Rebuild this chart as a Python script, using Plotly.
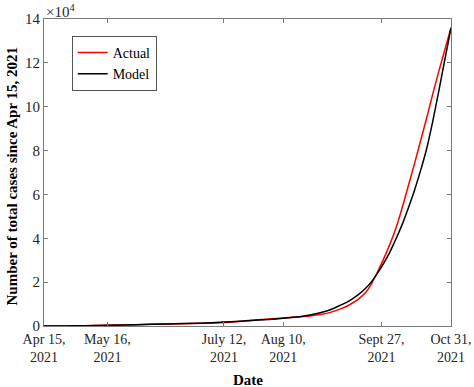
import plotly.graph_objects as go
import datetime as dt

# Days since Apr 15, 2021
days = [0, 10, 20, 31, 45, 60, 76, 88, 100, 110, 117, 125, 130, 135, 140, 145,
        148, 151, 154, 157, 160, 163, 166, 169, 172, 175, 178, 181, 184, 187,
        190, 193, 196, 199]

# Total cases (x10^4)
actual = [0.0, 0.005, 0.015, 0.03, 0.06, 0.09, 0.12, 0.16, 0.25, 0.32, 0.37,
          0.42, 0.46, 0.52, 0.62, 0.78, 0.90, 1.06, 1.25, 1.50, 1.90, 2.45,
          3.05, 3.70, 4.45, 5.35, 6.35, 7.35, 8.40, 9.45, 10.55, 11.60,
          12.60, 13.60]
model = [0.0, 0.005, 0.015, 0.03, 0.06, 0.09, 0.13, 0.18, 0.24, 0.30, 0.35,
         0.42, 0.50, 0.60, 0.74, 0.95, 1.08, 1.25, 1.45, 1.70, 2.00, 2.40,
         2.85, 3.35, 3.95, 4.60, 5.35, 6.15, 7.05, 8.05, 9.30, 10.70,
         12.15, 13.60]

tick_days = [0, 31, 88, 117, 165, 199]
tick_labels = ["Apr 15,<br>2021", "May 16,<br>2021", "July 12,<br>2021",
               "Aug 10,<br>2021", "Sept 27,<br>2021", "Oct 31,<br>2021"]
y_ticks = [0, 2, 4, 6, 8, 10, 12, 14]

start = dt.date(2021, 4, 15)
dates = [start + dt.timedelta(days=d) for d in days]
tick_dates = [start + dt.timedelta(days=d) for d in tick_days]

font_family = "Liberation Serif, Times New Roman, serif"
axis_col = "#7a7a7a"

fig = go.Figure()
fig.add_trace(go.Scatter(x=dates, y=actual, mode="lines", name="Actual",
                         line=dict(color="#ff0000", width=1.5, shape="spline",
                                   smoothing=0.6)))
fig.add_trace(go.Scatter(x=dates, y=model, mode="lines", name="Model",
                         line=dict(color="#000000", width=1.5, shape="spline",
                                   smoothing=0.6)))

fig.update_layout(
    width=474, height=387,
    margin=dict(l=44, r=23, t=19, b=61, autoexpand=False),
    paper_bgcolor="white", plot_bgcolor="white",
    font=dict(family=font_family, size=14, color="#262626"),
    showlegend=True,
    legend=dict(x=0.068, y=0.945, xanchor="left", yanchor="top",
                bgcolor="white", bordercolor="#555555", borderwidth=1,
                font=dict(family=font_family, size=14, color="#000000"),
                itemwidth=30, tracegroupgap=0),
)
fig.update_xaxes(
    range=[start, start + dt.timedelta(days=199)],
    tickvals=tick_dates, ticktext=tick_labels,
    ticks="inside", ticklen=4, tickcolor=axis_col,
    showline=True, linecolor=axis_col, linewidth=1, mirror="ticks",
    showgrid=False, zeroline=False, automargin=False,
    tickfont=dict(size=14, color="#262626"),
)
fig.update_yaxes(
    range=[0, 14],
    tickvals=y_ticks, ticktext=[str(v) for v in y_ticks],
    ticks="inside", ticklen=4, tickcolor=axis_col,
    showline=True, linecolor=axis_col, linewidth=1, mirror="ticks",
    showgrid=False, zeroline=False, automargin=False,
    tickfont=dict(size=15, color="#262626"),
)
# axis titles
fig.add_annotation(x=0, y=0.5, xref="paper", yref="paper", xanchor="center",
                   yanchor="middle", showarrow=False, textangle=-90,
                   xshift=-33, yshift=-4,
                   text="<b>Number of total cases since Apr 15, 2021</b>",
                   font=dict(family=font_family, size=15, color="#000000"))
fig.add_annotation(x=0.5, y=0, xref="paper", yref="paper", xanchor="center",
                   yanchor="middle", showarrow=False, yshift=-54,
                   text="<b>Date</b>",
                   font=dict(family=font_family, size=15, color="#000000"))
fig.add_annotation(x=0, y=1, xref="paper", yref="paper", xanchor="left",
                   yanchor="bottom", showarrow=False, yshift=-3,
                   text="\u00d710<sup>4</sup>",
                   font=dict(family=font_family, size=15, color="#262626"))

fig.write_html("out.html", config={"displayModeBar": False},
               post_script="document.body.style.margin='0';")
